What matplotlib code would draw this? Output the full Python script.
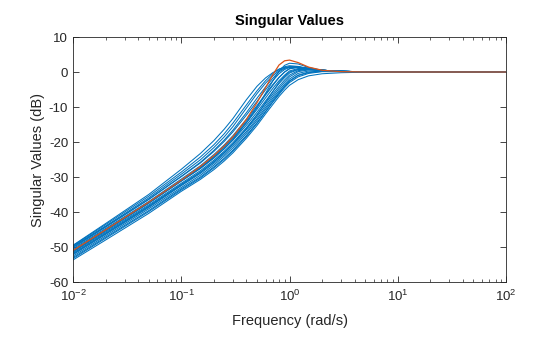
import matplotlib
matplotlib.use("Agg")
import matplotlib.pyplot as plt
from matplotlib.ticker import LogLocator, NullFormatter, MultipleLocator

plt.rcParams['font.family'] = ['Liberation Sans', 'DejaVu Sans']
plt.rcParams['mathtext.fontset'] = 'custom'
plt.rcParams['mathtext.rm'] = 'Liberation Sans'
plt.rcParams['mathtext.default'] = 'regular'
plt.rcParams['axes.unicode_minus'] = False

freq = [0.01, 0.02, 0.05, 0.1, 0.15, 0.2, 0.25, 0.3, 0.4, 0.5, 0.6, 0.7, 0.8, 0.9,
        1.0, 1.2, 1.5, 2.0, 3.0, 5.0, 10, 100]

# sampled (uncertain) responses, dB
samples = [
    [-49.5, -43.3, -35.0, -27.8, -23.3, -19.6, -16.3, -13.3, -7.9, -4.1, -1.7, -0.2, 0.8, 1.3, 1.5, 1.4, 1.0, 0.5, 0.2, 0.05, 0, 0],
    [-49.6, -43.6, -35.5, -28.6, -24.3, -20.8, -17.6, -14.6, -9.4, -5.4, -2.5, -0.5, 0.8, 1.5, 1.8, 1.6, 1.0, 0.5, 0.2, 0.05, 0, 0],
    [-49.8, -44.0, -36.0, -29.2, -25.1, -21.6, -18.5, -15.6, -10.3, -6.2, -3.2, -1.1, 0.4, 1.1, 1.4, 1.3, 0.9, 0.5, 0.2, 0.05, 0, 0],
    [-50.0, -44.2, -36.4, -29.9, -26.0, -22.7, -19.8, -17.1, -12.3, -8.4, -5.1, -2.5, -0.5, 0.7, 1.3, 1.4, 1.0, 0.5, 0.2, 0.05, 0, 0],
    [-50.2, -44.3, -36.4, -29.8, -25.8, -22.4, -19.4, -16.6, -11.6, -7.5, -4.3, -1.8, 0.0, 1.0, 1.5, 1.5, 1.0, 0.5, 0.2, 0.05, 0, 0],
    [-50.5, -44.7, -37.0, -30.6, -26.8, -23.6, -20.8, -18.2, -13.5, -9.6, -6.3, -3.6, -1.5, 0.0, 0.9, 1.3, 1.0, 0.5, 0.2, 0.05, 0, 0],
    [-50.8, -45.0, -37.3, -31.0, -27.3, -24.2, -21.5, -19.0, -14.5, -10.7, -7.4, -4.7, -2.5, -0.9, 0.3, 1.0, 0.9, 0.5, 0.2, 0.05, 0, 0],
    [-51.0, -45.2, -37.4, -31.1, -27.5, -24.5, -21.9, -19.5, -15.2, -11.5, -8.3, -5.6, -3.3, -1.6, -0.3, 0.7, 0.8, 0.5, 0.2, 0.05, 0, 0],
    [-51.2, -45.3, -37.5, -31.1, -27.3, -24.1, -21.3, -18.7, -14.0, -10.0, -6.6, -3.9, -1.6, 0.0, 1.0, 1.4, 1.0, 0.5, 0.2, 0.05, 0, 0],
    [-51.3, -45.4, -37.5, -31.2, -27.6, -24.6, -21.9, -19.3, -14.5, -10.2, -6.1, -2.6, 0.3, 1.9, 2.5, 2.3, 1.3, 0.5, 0.15, 0.05, 0, 0],
    [-51.5, -45.7, -38.0, -31.8, -28.2, -25.2, -22.6, -20.2, -15.9, -12.2, -9.0, -6.3, -4.1, -2.3, -0.9, 0.4, 0.7, 0.5, 0.2, 0.05, 0, 0],
    [-51.8, -46.0, -38.3, -32.1, -28.6, -25.6, -23.0, -20.6, -16.4, -12.8, -9.6, -6.9, -4.7, -2.9, -1.4, 0.1, 0.6, 0.5, 0.2, 0.05, 0, 0],
    [-52.0, -46.2, -38.5, -32.3, -28.7, -25.7, -23.0, -20.6, -16.2, -12.3, -8.7, -5.6, -3.0, -1.2, 0.0, 0.8, 0.8, 0.5, 0.2, 0.05, 0, 0],
    [-52.2, -46.4, -38.7, -32.5, -29.0, -26.1, -23.5, -21.1, -17.0, -13.4, -10.2, -7.5, -5.3, -3.5, -2.0, -0.4, 0.3, 0.4, 0.2, 0.05, 0, 0],
    [-52.6, -46.8, -39.1, -33.0, -29.5, -26.6, -24.0, -21.7, -17.5, -13.9, -10.7, -8.0, -5.8, -4.0, -2.5, -0.9, 0.0, 0.3, 0.2, 0.05, 0, 0],
    [-53.0, -47.2, -39.6, -33.4, -30.0, -27.1, -24.6, -22.3, -18.1, -14.5, -11.3, -8.6, -6.4, -4.5, -3.0, -1.4, -0.4, 0.1, 0.1, 0.05, 0, 0],
    [-53.3, -47.5, -39.9, -33.7, -30.3, -27.4, -24.9, -22.6, -18.4, -14.7, -11.4, -8.5, -6.1, -4.1, -2.6, -1.0, -0.2, 0.2, 0.15, 0.05, 0, 0],
    [-53.7, -48.0, -40.4, -34.1, -30.7, -27.9, -25.4, -23.1, -18.9, -15.3, -12.0, -9.3, -7.0, -5.2, -3.8, -2.2, -1.1, -0.5, -0.2, -0.05, 0, 0],
]

# nominal response, dB
nominal = [-51.0, -45.1, -37.2, -30.9, -27.0, -23.9, -21.1, -18.5, -13.5, -8.8, -4.5, -0.8,
           2.0, 3.2, 3.4, 2.7, 1.4, 0.5, 0.1, 0.0, 0, 0]

blue = '#0072BD'
orange = '#D95319'
axcol = '#262626'

fig = plt.figure(figsize=(5.6, 3.37), dpi=100)
ax = fig.add_axes([0.1304, 0.1632, 0.7732, 0.727])

for s in samples:
    ax.plot(freq, s, color=blue, lw=0.75)
ax.plot(freq, nominal, color=orange, lw=0.9)

ax.set_xscale('log')
ax.set_xlim(0.01, 100)
ax.set_ylim(-60, 10)
ax.yaxis.set_major_locator(MultipleLocator(10))
ax.xaxis.set_major_locator(LogLocator(base=10, numticks=10))
ax.xaxis.set_minor_locator(LogLocator(base=10, subs=range(2, 10), numticks=20))
ax.xaxis.set_minor_formatter(NullFormatter())

ax.tick_params(which='both', direction='in', top=True, right=True,
               colors=axcol, labelsize=9.5)
ax.tick_params(which='major', length=4, width=0.6)
ax.tick_params(which='minor', length=2.5, width=0.5)
ax.tick_params(axis='x', which='major', pad=5)
for sp in ax.spines.values():
    sp.set_color(axcol)
    sp.set_linewidth(0.6)

ax.set_xlabel('Frequency (rad/s)', fontsize=10.5, color=axcol, labelpad=7)
ax.set_ylabel('Singular Values (dB)', fontsize=10.5, color=axcol, labelpad=3)
ax.set_title('Singular Values', fontsize=10.5, fontweight='bold', color='black', pad=9)

fig.savefig('out.png', dpi=100)
